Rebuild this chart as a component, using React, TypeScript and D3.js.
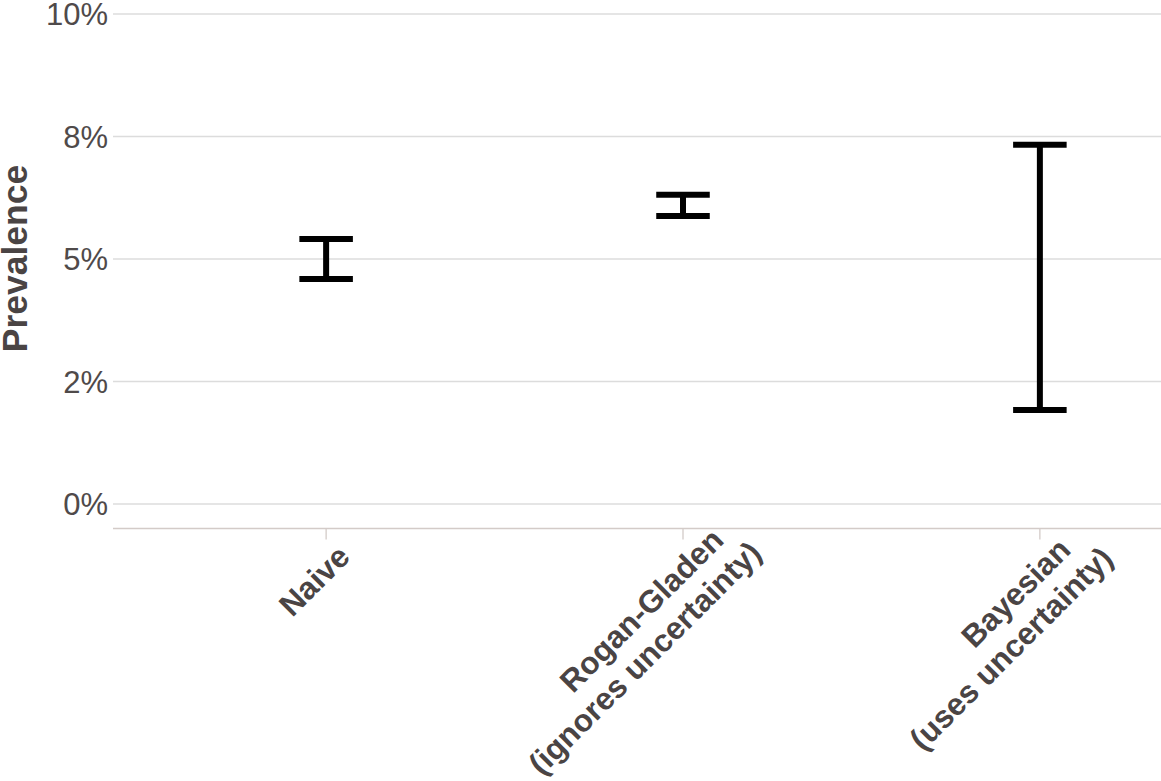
import React, { useEffect, useRef } from "react";
import * as d3 from "d3";

// Method labels, one entry per line of the rotated axis label
const methods = ["naive", "rogan", "bayes"];
const methodLabels = [
  ["Naive"],
  ["Rogan-Gladen", "(ignores uncertainty)"],
  ["Bayesian", "(uses uncertainty)"],
];

// Interval bounds (prevalence as a fraction)
const lowerBounds = [0.0459, 0.0588, 0.0192];
const upperBounds = [0.0541, 0.0631, 0.0733];

// y axis ticks and their (rounded) labels
const yTicks = [0, 0.025, 0.05, 0.075, 0.1];
const yTickLabels = ["0%", "2%", "5%", "8%", "10%"];

const WIDTH = 1161;
const HEIGHT = 781;
const FONT = "'Liberation Sans', Arial, Helvetica, sans-serif";

const App: React.FC = () => {
  const svgRef = useRef<SVGSVGElement>(null);

  useEffect(() => {
    if (!svgRef.current) return;
    const svg = d3.select(svgRef.current);
    svg.selectAll("*").remove();

    const panelLeft = 112;
    const panelRight = 1254;

    const x = d3
      .scalePoint<string>()
      .domain(methods)
      .range([panelLeft, panelRight])
      .padding(0.6);

    const y = d3.scaleLinear().domain([-0.005, 0.105]).range([528.5, -10.5]);
    const axisY = y(-0.005);

    // Grid lines
    svg
      .append("g")
      .selectAll("line")
      .data(yTicks)
      .enter()
      .append("line")
      .attr("x1", panelLeft + 1)
      .attr("x2", WIDTH)
      .attr("y1", (d) => y(d))
      .attr("y2", (d) => y(d))
      .attr("stroke", "#dcdcdc")
      .attr("stroke-width", 1.3);

    // Bottom axis line + ticks
    svg
      .append("line")
      .attr("x1", panelLeft + 1)
      .attr("x2", WIDTH)
      .attr("y1", axisY)
      .attr("y2", axisY)
      .attr("stroke", "#d3cbc8")
      .attr("stroke-width", 1.3);

    svg
      .append("g")
      .selectAll("line")
      .data(methods)
      .enter()
      .append("line")
      .attr("x1", (d) => x(d)!)
      .attr("x2", (d) => x(d)!)
      .attr("y1", axisY)
      .attr("y2", axisY + 11)
      .attr("stroke", "#d3cbc8")
      .attr("stroke-width", 1.3);

    // y tick labels
    svg
      .append("g")
      .selectAll("text")
      .data(yTicks)
      .enter()
      .append("text")
      .attr("x", 108)
      .attr("y", (d) => y(d))
      .attr("dy", "0.36em")
      .attr("text-anchor", "end")
      .style("font-family", FONT)
      .style("font-size", "31px")
      .style("fill", "#4f4a4a")
      .text((_, i) => yTickLabels[i]);

    // y title
    svg
      .append("text")
      .attr("transform", `translate(27, 258.5) rotate(-90)`)
      .attr("text-anchor", "middle")
      .style("font-family", FONT)
      .style("font-size", "35.5px")
      .style("font-weight", "bold")
      .style("fill", "#4a4444")
      .text("Prevalence");

    // Error bars
    const step = x.step();
    const capHalf = (step * 0.15) / 2;
    const bars = svg
      .append("g")
      .selectAll("g")
      .data(methods)
      .enter()
      .append("g")
      .attr("stroke", "#000")
      .attr("stroke-width", 6);

    bars
      .append("line")
      .attr("x1", (d) => x(d)!)
      .attr("x2", (d) => x(d)!)
      .attr("y1", (_, i) => y(upperBounds[i]))
      .attr("y2", (_, i) => y(lowerBounds[i]));
    bars
      .append("line")
      .attr("x1", (d) => x(d)! - capHalf)
      .attr("x2", (d) => x(d)! + capHalf)
      .attr("y1", (_, i) => y(upperBounds[i]))
      .attr("y2", (_, i) => y(upperBounds[i]));
    bars
      .append("line")
      .attr("x1", (d) => x(d)! - capHalf)
      .attr("x2", (d) => x(d)! + capHalf)
      .attr("y1", (_, i) => y(lowerBounds[i]))
      .attr("y2", (_, i) => y(lowerBounds[i]));

    // x labels, rotated 45 degrees
    const hjust = 0.82;
    const anchorX = -12;
    const firstBaseline = 33;
    const lineGap = 36;
    methods.forEach((m, i) => {
      const g = svg
        .append("g")
        .attr("transform", `translate(${x(m)}, ${axisY + 9}) rotate(-45)`);
      methodLabels[i].forEach((line, j) => {
        const t = g
          .append("text")
          .attr("y", firstBaseline + j * lineGap)
          .style("font-family", FONT)
          .style("font-size", "31.5px")
          .style("font-weight", "bold")
          .style("fill", "#4a4444")
          .text(line);
        const w = (t.node() as SVGTextElement).getComputedTextLength();
        t.attr("x", anchorX - hjust * w);
      });
    });
  }, []);

  return (
    <svg
      ref={svgRef}
      width={WIDTH}
      height={HEIGHT}
      style={{ position: "absolute", left: 0, top: 0, background: "#fff" }}
    />
  );
};

export default App;
